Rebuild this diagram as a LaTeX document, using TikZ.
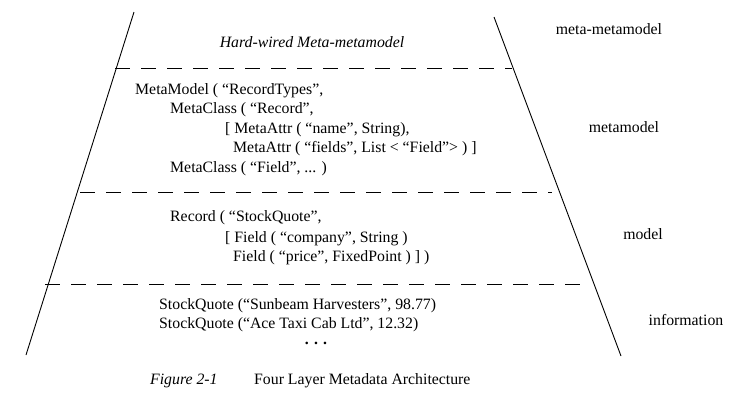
\documentclass[tikz,border=0pt]{standalone}
\usepackage{fontspec}
\setmainfont{Liberation Serif}
\begin{document}
\begin{tikzpicture}[x=1pt,y=-1pt,
  txt/.style={anchor=west,inner sep=0pt,font=\fontsize{15.8}{17}\selectfont},
  lab/.style={anchor=center,inner sep=0pt,font=\fontsize{15.8}{17}\selectfont},
  dsh/.style={line width=0.8pt,dash pattern=on 15pt off 11pt},
  side/.style={line width=0.9pt}]
\useasboundingbox (0,0) rectangle (747,405);
\coordinate (l1) at (134,12); \coordinate (l2) at (26,355);
\coordinate (r1) at (494,17); \coordinate (r2) at (621,356);
\draw[side] (l1) -- (l2);
\draw[side] (r1) -- (r2);
\coordinate (d1a) at (115,68); \coordinate (d1b) at (512,68);
\coordinate (d2a) at (80,192); \coordinate (d2b) at (552,192);
\coordinate (d3a) at (45,284); \coordinate (d3b) at (586,284);
\draw[dsh] (d1a) -- (d1b);
\draw[dsh] (d2a) -- (d2b);
\draw[dsh] (d3a) -- (d3b);
\node[lab,font=\fontsize{15.8}{17}\selectfont\itshape] (hw) at (312,42) {Hard-wired Meta-metamodel};
\node[txt] (t1) at (135,91) {MetaModel ( “RecordTypes”,};
\node[txt] (t2) at (170,110) {MetaClass ( “Record”,};
\node[txt] (t3) at (225,130) {[ MetaAttr ( “name”, String),};
\node[txt] (t4) at (233,149) {MetaAttr ( “fields”, List < “Field”> ) ]};
\node[txt] (t5) at (170,169) {MetaClass ( “Field”, ... )};
\node[txt] (m1) at (170,218) {Record ( “StockQuote”,};
\node[txt] (m2) at (225,239) {[ Field ( “company”, String )};
\node[txt] (m3) at (233,258) {Field ( “price”, FixedPoint ) ] )};
\node[txt] (i1) at (159,306) {StockQuote (“Sunbeam Harvesters”, 98.77)};
\node[txt] (i2) at (159,325) {StockQuote (“Ace Taxi Cab Ltd”, 12.32)};
\node[lab,font=\bfseries\fontsize{15.8}{17}\selectfont,text height=2pt,text depth=0pt] (dots) at (316,343) {. . .};
\node[lab] (L1) at (609,29) {meta-metamodel};
\node[lab] (L2) at (624,127) {metamodel};
\node[lab] (L3) at (643,234) {model};
\node[lab] (L4) at (686,320) {information};
\node[txt,font=\fontsize{15.8}{17}\selectfont\itshape] (cap1) at (150,381) {Figure 2-1};
\node[txt] (cap2) at (254,381) {Four Layer Metadata Architecture};
\end{tikzpicture}
\end{document}
